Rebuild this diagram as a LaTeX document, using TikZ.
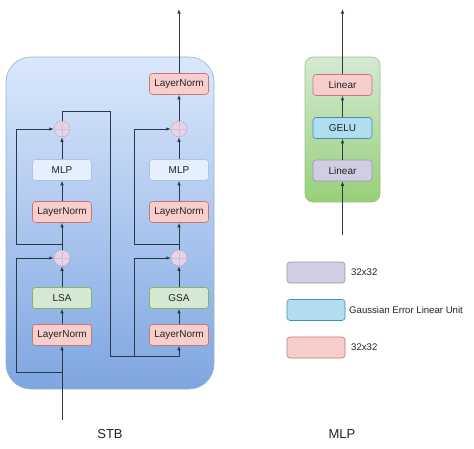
\documentclass[tikz,border=0pt]{standalone}
\usepackage{fontspec}
\setmainfont{Liberation Sans}
\usetikzlibrary{arrows.meta}
\definecolor{lnfill}{HTML}{F8CECC}\definecolor{lndraw}{HTML}{B85450}
\definecolor{safill}{HTML}{D5E8D4}\definecolor{sadraw}{HTML}{82B366}
\definecolor{mlpfill}{HTML}{DAE8FC}\definecolor{mlpdraw}{HTML}{A9C4EB}
\definecolor{gefill}{HTML}{B1DDF0}\definecolor{gedraw}{HTML}{10739E}
\definecolor{lifill}{HTML}{D0CEE2}\definecolor{lidraw}{HTML}{56517E}
\definecolor{plfill}{HTML}{E6D4E6}\definecolor{pldraw}{HTML}{9673A6}
\definecolor{stbtop}{HTML}{DAE8FC}\definecolor{stbbot}{HTML}{7EA6E0}\definecolor{stbdraw}{HTML}{6C8EBF}
\definecolor{mtop}{HTML}{D5E8D4}\definecolor{mbot}{HTML}{97D077}\definecolor{mdraw}{HTML}{82B366}
\definecolor{wire}{HTML}{2B3848}
\definecolor{txt}{HTML}{222222}
\tikzset{
  blk/.style={rectangle, rounded corners=3pt, minimum width=59pt, minimum height=21pt, inner sep=0pt, font=\fontsize{10}{12}\selectfont, text=txt, line width=0.6pt},
  lnbox/.style={blk, fill=lnfill, draw=lndraw!80},
  sabox/.style={blk, fill=safill, draw=sadraw},
  mlpbox/.style={blk, fill=mlpfill!70!white, draw=mlpdraw},
  gebox/.style={blk, fill=gefill, draw=gedraw!80},
  libox/.style={blk, fill=lifill, draw=lidraw!60},
  plusc/.style={circle, minimum size=16pt, inner sep=0pt, fill=plfill, draw=pldraw!60, line width=0.5pt,
    path picture={\draw[pldraw!45] (path picture bounding box.north) -- (path picture bounding box.south) (path picture bounding box.west) -- (path picture bounding box.east);}},
  wirel/.style={draw=wire, line width=0.75pt},
  arr/.style={wirel, -{Latex[length=4.5pt,width=3.5pt]}},
  lbl/.style={font=\fontsize{13}{15}\selectfont, text=txt},
  leg/.style={anchor=west, font=\fontsize{9.6}{11}\selectfont, inner sep=0pt, text=txt}
}
\begin{document}
\begin{tikzpicture}[x=1pt,y=-1pt]
\useasboundingbox (0,0) rectangle (474,448);
% panels
\path[top color=stbtop, bottom color=stbbot, draw=stbdraw!70, line width=0.6pt, rounded corners=25pt] (6,57) rectangle (214,389);
\path[top color=mtop, bottom color=mbot, draw=mdraw!80, line width=0.6pt, rounded corners=8pt] (305,57) rectangle (380,202);
% left column
\node[lnbox] (ln1) at (62,335) {LayerNorm};
\node[sabox] (lsa) at (62,298) {LSA};
\node[plusc] (pl1) at (62,258) {};
\node[lnbox] (ln2) at (62,212) {LayerNorm};
\node[mlpbox] (mlp1) at (62,170) {MLP};
\node[plusc] (pl2) at (62,129) {};
% right column
\node[lnbox] (ln3) at (179,335) {LayerNorm};
\node[sabox] (gsa) at (179,298) {GSA};
\node[plusc] (pl3) at (179,258) {};
\node[lnbox] (ln4) at (179,212) {LayerNorm};
\node[mlpbox] (mlp2) at (179,170) {MLP};
\node[plusc] (pl4) at (179,129) {};
\node[lnbox] (ln5) at (179,84) {LayerNorm};
% coordinates
\coordinate (in1) at (62,420);
\coordinate (s1) at (62,372);
\coordinate (s2) at (62,244);
\coordinate (s3) at (134,356);
\coordinate (s4) at (179,244);
\coordinate (out1) at (179,9);
% left wires
\draw[arr] (in1) -- (ln1.south);
\draw[arr] (ln1) -- (lsa);
\draw[arr] (lsa) -- (pl1);
\draw[arr] (pl1) -- (ln2);
\draw[arr] (ln2) -- (mlp1);
\draw[arr] (mlp1) -- (pl2);
\draw[arr] (s1) -- ++(-46,0) |- (pl1.west);
\draw[arr] (s2) -- ++(-46,0) |- (pl2.west);
% cross connection
\draw[arr] (pl2.north) -- (62,111) -- (110,111) -- (110,356) -| (ln3.south);
% right wires
\draw[arr] (ln3) -- (gsa);
\draw[arr] (gsa) -- (pl3);
\draw[arr] (pl3) -- (ln4);
\draw[arr] (ln4) -- (mlp2);
\draw[arr] (mlp2) -- (pl4);
\draw[arr] (pl4) -- (ln5);
\draw[arr] (ln5) -- (out1);
\draw[arr] (s3) |- (pl3.west);
\draw[arr] (s4) -- ++(-45,0) |- (pl4.west);
% MLP panel
\node[lnbox] (li1) at (342.5,85) {Linear};
\node[gebox] (gelu) at (342.5,128) {GELU};
\node[libox] (li2) at (342.5,170.5) {Linear};
\coordinate (min) at (342.5,235);
\coordinate (mout) at (342.5,9);
\draw[arr] (min) -- (li2.south);
\draw[arr] (li2) -- (gelu);
\draw[arr] (gelu) -- (li1);
\draw[arr] (li1) -- (mout);
% legend
\node[libox, minimum width=58pt] (lg1) at (316,272.5) {};
\node[gebox, minimum width=58pt] (lg2) at (316,310) {};
\node[lnbox, minimum width=58pt] (lg3) at (316,347.5) {};
\node[leg] (t1) at (351,272.5) {32x32};
\node[leg] (t2) at (349,310) {Gaussian Error Linear Unit};
\node[leg] (t3) at (351,347.5) {32x32};
% labels
\node[lbl] (stb) at (110,434) {STB};
\node[lbl] (mlpl) at (342,434) {MLP};
\end{tikzpicture}
\end{document}
